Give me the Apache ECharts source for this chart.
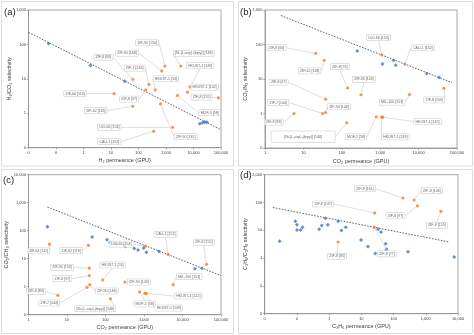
<!DOCTYPE html>
<html><head><meta charset="utf-8">
<script src="https://cdn.jsdelivr.net/npm/echarts@6/dist/echarts.min.js"></script>
<style>html,body{margin:0;padding:0;background:#fff}#c{width:474px;height:335px}</style>
</head><body><div id="c"></div>
<script>
// ---------- Panel (a): H2/CO2 selectivity vs H2 permeance ----------
const aBlueX = [0.054, 1.78, 32, 17000, 21400, 25700, 30700];
const aBlueY = [107, 24.5, 8.5, 0.50, 0.53, 0.56, 0.55];
const aNames = ['ZIF-90 [150]','ZIF-90 [168]','[Ni\u2082(L-asp)\u2082(bipy)] [148]','HKUST-1 [149]','ZIF-8 [85]','ZIF-7 [146]','HKUST-1 [53]','HKUST-1 [142]','ZIF-8 [155]','ZIF-64 [116]','ZIF-8 [97]','ZIF-62 [118]','UiO-66 [154]','CAU-1 [152]','ZIF-90 [145]','MOF-5 [58]'];
const aX = [910, 700, 3450, 7500, 62, 240, 405, 6000, 80000, 13, 185, 62, 1740, 355, 630, 2600];
const aY = [23.5, 17, 23.5, 5.9, 9.7, 6.9, 4.8, 4.1, 2.8, 3.7, 4.8, 1.6, 0.39, 0.30, 1.87, 3.3];
const aTrendX = [0.01, 100000];
const aTrendY = [224, 0.33];

// ---------- Panel (b): CO2/N2 selectivity vs CO2 permeance ----------
const bBlueX = [253, 1150, 2240, 2530, 16300, 34000];
const bBlueY = [65, 27, 35, 25, 14.5, 11];
const bNames = ['ZIF-8 [60]','ZIF-62 [118]','UiO-66 [154]','CAU-1 [152]','ZIF-8 [76]','ZIF-90 [145]','ZIF-8 [150]','ZIF-8 [47]','MIL-100 [153]','ZIF-7 [144]','ZIF-90 [148]','ZIF-8 [83]','[Ni\u2082(L-asp)\u2082(bipy)] [148]','MOF-5 [58]','HKUST-1 [142]','HKUST-1 [149]'];
const bX = [21, 35, 1100, 4370, 141, 316, 45700, 38, 5780, 31.6, 38, 5.7, 135, 790, 1170, 1090];
const bY = [55, 35, 50, 27, 5.5, 3.5, 5.4, 2.6, 3.55, 1.0, 1.07, 1.0, 0.54, 0.8, 0.78, 0.78];
const bTrendX = [2.6, 74000];
const bTrendY = [690, 7.9];

// ---------- Panel (c): CO2/CH4 selectivity vs CO2 permeance ----------
const cBlueX = [3.1, 45, 110, 132, 190, 295, 330, 560, 700, 980, 1150, 2460, 21000, 32000];
const cBlueY = [139, 59, 48, 38, 33, 30, 27, 23, 20.5, 24, 17, 18, 4.4, 4.6];
const cNames = ['ZIF-64 [111]','ZIF-62 [118]','UiO-66 [154]','CAU-1 [152]','ZIF-8 [155]','ZIF-90 [150]','HKUST-1 [53]','ZIF-8 [97]','ZIF-90 [145]','MIL-100 [153]','ZIF-90 [148]','ZIF-7 [144]','ZIF-8 [83]','[Ni\u2082(L-asp)\u2082(bipy)] [148]','MOF-5 [58]','HKUST-1 [142]','HKUST-1 [149]'];
const cX = [3.5, 36, 1080, 4250, 42000, 38, 85, 38, 318, 5720, 39, 33, 5.8, 135, 770, 1150, 1050];
const cY = [33, 30, 28, 14.3, 6.3, 4.6, 1.74, 2.5, 1.47, 1.18, 1.18, 0.95, 0.49, 0.37, 0.65, 0.58, 0.58];
const cTrendX = [3.1, 100000];
const cTrendY = [700, 2.5];

// ---------- Panel (d): C3H6/C3H8 selectivity vs C3H6 permeance ----------
const dBlueX = [0.029, 0.089, 0.1, 0.1, 0.13, 0.15, 0.49, 0.59, 0.76, 0.91, 1.9, 2.4, 3.3, 9.8, 16, 27, 33, 41, 57, 60, 280, 7600];
const dBlueY = [4.0, 21, 16, 10.3, 10.3, 13, 11, 15, 27, 15.8, 21, 9.8, 13, 4.5, 2.6, 1.45, 11, 8.7, 3.3, 2.1, 1.7, 1.1];
const dNames = ['ZIF-8 [161]','ZIF-8 [146]','ZIF-8 [147]','ZIF-8 [97]','ZIF-8 [155]','ZIF-8 [85]','ZIF-8 [77]'];
const dX = [195, 435, 26, 550, 2950, 1.9, 25];
const dY = [145, 123, 42, 76, 48, 3.8, 13];
const dTrendX = [0.018, 5400];
const dTrendY = [66, 3.8];

// ---------- Layout (label offsets in px, not data) ----------
const aDx = [-17.7,-34.7,13,10,-29.3,-14.3,10.7,17.3,-16.7,-39,-16.7,-37,-63.3,-44.3,25.3,32.3];
const aDy = [-23.3,-17.7,-12.7,-21,-22,-16.3,-11,-5,-0.7,0,9.3,4.3,0,10.3,32.7,17.3];
const bDx = [-39.3,-14.7,-3.3,18,-7.7,3,-9.7,-47,-17.3,-44.3,13.3,-20.3,-43.7,-20.3,44.7,13.7];
const bDy = [-5.7,10.7,-17.3,-16.3,-21.3,-15.3,11.7,-17,7.7,-11,-5.7,8.7,14,20,4.3,19.7];
const cDx = [-11,-17.3,-24,-2.7,-2.7,-27.3,9.7,-27,14,16,17,-37.7,-22,-15.3,5,42,24];
const cDy = [6.7,5.3,-2,-20,-22,-0.7,-15,3,0,-8,6.3,15.7,-4,10,12,2.7,14.7];
const dDx = [-38,17.7,-51.7,-22,-4,-1,12.7];
const dDy = [-9.3,-9.3,-9,10,14,14.3,26.7];

const FONT = '"Liberation Sans", Arial, "DejaVu Sans", sans-serif';
const BLUE = '#4472c4', ORANGE = '#ed7d31', AXC = '#8f8f8f';
function fmt(v) {
  if (v < 0.999) return '0';
  return String(Math.round(v)).replace(/\B(?=(\d{3})+(?!\d))/g, ',');
}
const zip = (xs, ys) => xs.map((x, i) => [x, ys[i]]);

const panels = [
  {grid:{left:28.5, top:10, width:192.5, height:137.7}, xr:[0.01,1e5], yr:[0.1,1e3],
   xName:'H\u2082 permeance (GPU)', yName:'H\u2082/CO\u2082 selectivity',
   bx:aBlueX, by:aBlueY, names:aNames, ox:aX, oy:aY, dx:aDx, dy:aDy, tx:aTrendX, ty:aTrendY, wide:-1},
  {grid:{left:265, top:10, width:192, height:138}, xr:[1,1e5], yr:[0.1,1e3],
   xName:'CO\u2082 permeance (GPU)', yName:'CO\u2082/N\u2082 selectivity',
   bx:bBlueX, by:bBlueY, names:bNames, ox:bX, oy:bY, dx:bDx, dy:bDy, tx:bTrendX, ty:bTrendY, wide:12},
  {grid:{left:28.5, top:174.7, width:192.5, height:140}, xr:[1,1e5], yr:[0.1,1e4],
   xName:'CO\u2082 permeance (GPU)', yName:'CO\u2082/CH\u2084 selectivity',
   bx:cBlueX, by:cBlueY, names:cNames, ox:cX, oy:cY, dx:cDx, dy:cDy, tx:cTrendX, ty:cTrendY, wide:-1},
  {grid:{left:264.7, top:174.7, width:193.3, height:139}, xr:[0.01,1e4], yr:[0.01,1e3],
   xName:'C\u2083H\u2086 permeance (GPU)', yName:'C\u2083H\u2086/C\u2083H\u2088 selectivity',
   bx:dBlueX, by:dBlueY, names:dNames, ox:dX, oy:dY, dx:dDx, dy:dDy, tx:dTrendX, ty:dTrendY, wide:-1}
];

const grids = [], xAxes = [], yAxes = [], series = [];
panels.forEach((p, k) => {
  grids.push(Object.assign({show:true, borderColor:AXC, borderWidth:0.8, backgroundColor:'#fff'}, p.grid));
  const common = {type:'log', logBase:10, gridIndex:k, splitLine:{show:false},
    axisLine:{show:true, lineStyle:{color:AXC, width:0.8}},
    axisTick:{show:true, length:1.8, lineStyle:{color:AXC, width:0.7}},
    axisLabel:{fontSize:4, color:'#404040', fontFamily:FONT, formatter:fmt},
    nameLocation:'middle', nameTextStyle:{fontSize:5.5, color:'#404040', fontFamily:FONT}};
  xAxes.push(Object.assign({}, common, {min:p.xr[0], max:p.xr[1],
    splitNumber:Math.round(Math.log10(p.xr[1]/p.xr[0])), name:p.xName, nameGap:10,
    axisLabel:Object.assign({}, common.axisLabel, {margin:3})}));
  yAxes.push(Object.assign({}, common, {min:p.yr[0], max:p.yr[1],
    splitNumber:Math.round(Math.log10(p.yr[1]/p.yr[0])), name:p.yName, nameGap:13,
    axisLabel:Object.assign({}, common.axisLabel, {margin:2.5})}));
  series.push({type:'line', xAxisIndex:k, yAxisIndex:k, data:zip(p.tx, p.ty), symbol:'none', silent:true,
    lineStyle:{color:'#44546a', width:0.9, type:[1.6,1.4]}, z:2});
  series.push({type:'scatter', xAxisIndex:k, yAxisIndex:k, data:zip(p.bx, p.by), symbol:'diamond',
    symbolSize:4, itemStyle:{color:BLUE}, z:3});
  const dxs = p.dx, dys = p.dy;
  series.push({type:'scatter', xAxisIndex:k, yAxisIndex:k, symbol:'circle', symbolSize:3.2,
    itemStyle:{color:ORANGE}, z:4,
    data:p.names.map((n, i) => {
      const it = {name:n, value:[p.ox[i], p.oy[i]]};
      if (i === p.wide) it.label = {padding:[3.5, 13]};
      return it;
    }),
    label:{show:true, position:'inside', formatter:'{b}', fontSize:3.6, color:'#404040', fontFamily:FONT,
      backgroundColor:'#fff', borderColor:'#bfbfbf', borderWidth:0.5, padding:[0.8,1.5]},
    labelLine:{show:true, lineStyle:{color:'#c8c8c8', width:0.6}},
    labelLayout:(prm) => ({dx:dxs[prm.dataIndex], dy:dys[prm.dataIndex]})
  });
});

const frame = (x, y, w, h) => ({type:'rect', shape:{x, y, width:w, height:h}, z:-10,
  style:{fill:'#fff', stroke:'#dcdcdc', lineWidth:1}});
const letter = (t, x, y) => ({type:'text', x, y, z:10,
  style:{text:t, fontSize:9.5, fill:'#262626', fontFamily:FONT}});

const chart = echarts.init(document.getElementById('c'), null, {renderer:'canvas'});
chart.setOption({
  backgroundColor:'#fff', animation:false,
  grid:grids, xAxis:xAxes, yAxis:yAxes, series:series,
  graphic:[frame(1.5,1.5,232,164.5), frame(238.5,1.5,234,164.5), frame(1.5,169.5,232,164), frame(238.5,169.5,234,164),
    letter('(a)', 4, 7.5), letter('(b)', 240, 7.5), letter('(c)', 3, 175), letter('(d)', 240, 170.5)]
});
</script></body></html>
